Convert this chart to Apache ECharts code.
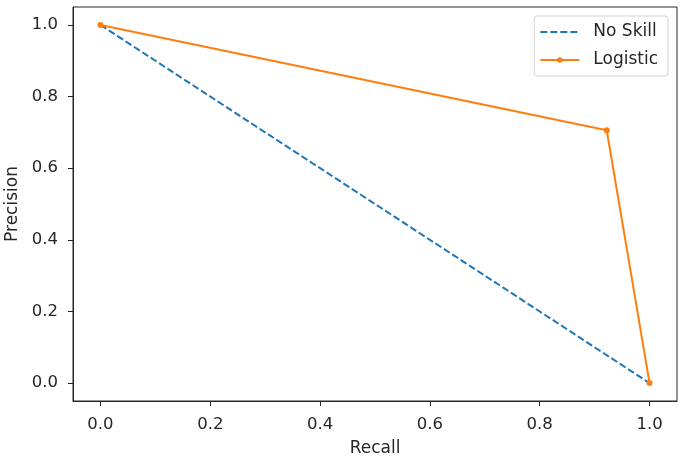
<!DOCTYPE html>
<html><head><meta charset="utf-8">
<script src="https://cdn.jsdelivr.net/npm/echarts@6/dist/echarts.min.js"></script>
<style>html,body{margin:0;padding:0;background:#fff}#c{width:684px;height:460px}</style>
</head><body><div id="c"></div>
<script>
const noSkillRecall = [0, 1];
const noSkillPrecision = [1, 0];
const logisticRecall = [0, 0.922, 1];
const logisticPrecision = [1, 0.706, 0];
const tickValues = [0, 0.2, 0.4, 0.6, 0.8, 1.0];
const seriesNames = ['No Skill', 'Logistic'];

const pairs = (xs, ys) => xs.map((x, i) => [x, ys[i]]);
const font = 'DejaVu Sans';
const fmt = v => v.toFixed(1);
const ink = '#262626';

const axisCommon = {
  type: 'value', min: -0.05, max: 1.05,
  splitLine: { show: false },
  axisLine: { show: true, onZero: false, lineStyle: { color: ink, width: 1 } },
  axisTick: { show: true, length: 5, customValues: tickValues, lineStyle: { color: ink } },
  axisLabel: { customValues: tickValues, formatter: fmt, color: ink, fontFamily: font, fontSize: 16.5 },
  nameLocation: 'middle',
  nameTextStyle: { color: ink, fontFamily: font, fontSize: 17 }
};

const chart = echarts.init(document.getElementById('c'), null, { renderer: 'canvas' });
chart.setOption({
  animation: false,
  backgroundColor: '#fff',
  grid: {
    left: 73, right: 7, top: 7, bottom: 59, containLabel: false, outerBoundsMode: 'none',
    show: true, borderColor: ink, borderWidth: 1, backgroundColor: 'transparent'
  },
  xAxis: Object.assign({}, axisCommon, {
    name: 'Recall', nameGap: 39,
    axisLabel: Object.assign({}, axisCommon.axisLabel, { margin: 15 })
  }),
  yAxis: Object.assign({}, axisCommon, {
    name: 'Precision', nameGap: 46.5,
    axisLabel: Object.assign({}, axisCommon.axisLabel, { margin: 15 })
  }),
  legend: {
    orient: 'vertical', right: 16, top: 16,
    data: [
      { name: seriesNames[0], itemStyle: { opacity: 0 } },
      { name: seriesNames[1] }
    ],
    backgroundColor: '#fff', borderColor: '#d6d6d6', borderWidth: 1, borderRadius: 3,
    padding: [5, 10, 5, 5], itemGap: 6, itemWidth: 39, itemHeight: 7,
    textStyle: { color: ink, fontFamily: font, fontSize: 17, lineHeight: 22, padding: [0, 0, 0, 9] }
  },
  series: [
    {
      name: seriesNames[0], type: 'line', data: pairs(noSkillRecall, noSkillPrecision),
      symbol: 'none', color: '#1f77b4',
      lineStyle: { type: [7, 3], width: 2, color: '#1f77b4' }
    },
    {
      name: seriesNames[1], type: 'line', data: pairs(logisticRecall, logisticPrecision),
      symbol: 'circle', symbolSize: 6, color: '#ff7f0e',
      itemStyle: { color: '#ff7f0e' },
      lineStyle: { width: 2, color: '#ff7f0e' }
    }
  ]
});
</script></body></html>
